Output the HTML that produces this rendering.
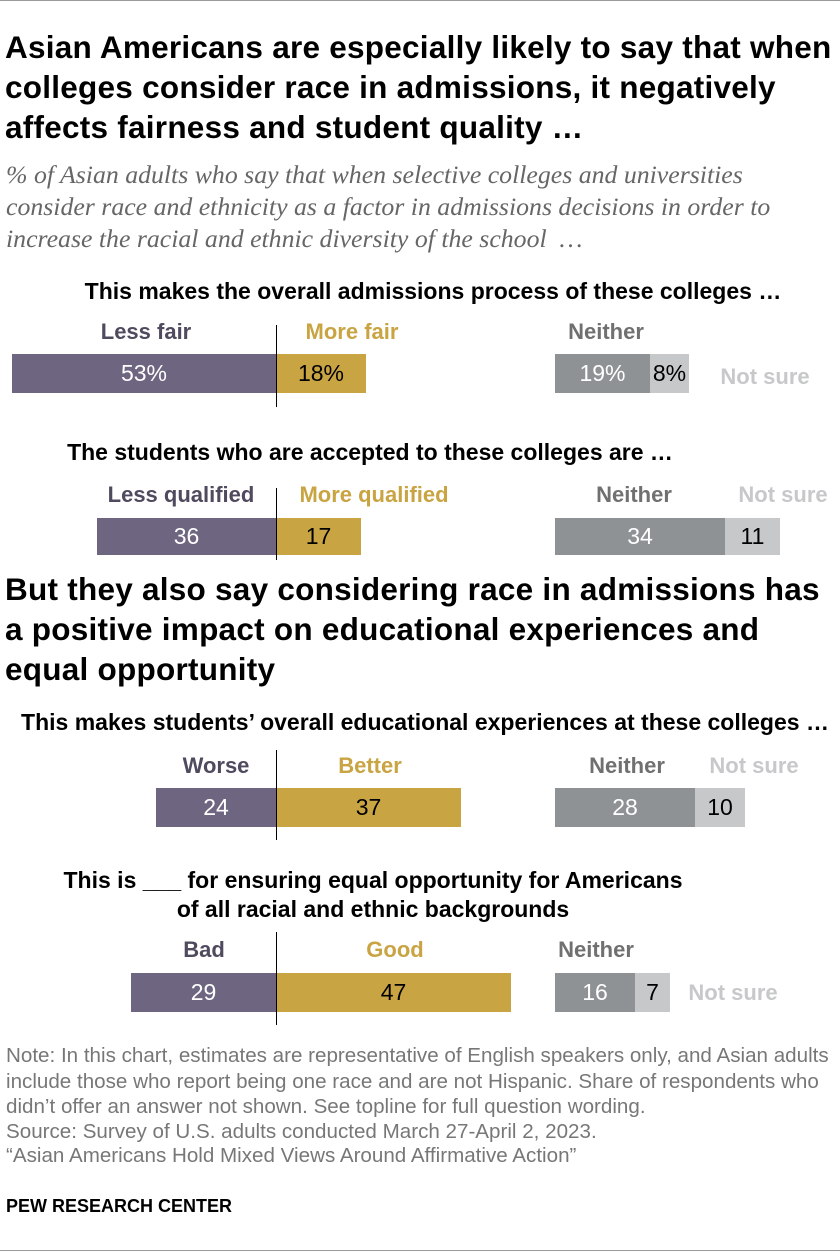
<!DOCTYPE html>
<html><head><meta charset="utf-8"><style>
body{margin:0;width:840px;height:1252px;background:#fff;position:relative;overflow:hidden;font-family:"Liberation Sans",sans-serif}
.a{position:absolute;white-space:nowrap}
.t{font-weight:bold;font-size:31.5px;line-height:40px;color:#000;left:5px;letter-spacing:0.25px}
.s{font-family:"Liberation Serif",serif;font-style:italic;font-size:25.8px;color:#666;left:6px;line-height:32px}
.h{font-family:"Liberation Sans Narrow","Liberation Sans",sans-serif;font-weight:bold;font-size:23px;color:#000;transform:translateX(-50%)}
.l{font-family:"Liberation Sans Narrow","Liberation Sans",sans-serif;font-weight:bold;font-size:22px;transform:translateX(-50%)}
.b{position:absolute;display:flex;align-items:center;justify-content:center;font-family:"Liberation Sans Narrow","Liberation Sans",sans-serif;font-size:23px}
.p{background:#6e6680;color:#fff}.g{background:#c9a443;color:#000}.n{background:#8f9294;color:#fff}.x{background:#c6c8c9;color:#000}
.v{position:absolute;width:1px;background:#000;left:276px}
.note{font-size:20.6px;color:#777;left:6px;line-height:25.5px}
</style></head><body>
<div class="a" style="left:0;top:0;width:840px;height:1px;background:#999"></div>
<div class="a t" style="top:27px">Asian Americans are especially likely to say that when<br>colleges consider race in admissions, it negatively<br>affects fairness and student quality …</div>
<div class="a s" style="top:159px">% of Asian adults who say that when selective colleges and universities<br>consider race and ethnicity as a factor in admissions decisions in order to<br>increase the racial and ethnic diversity of the school&nbsp; …</div>

<div class="a h" style="left:433px;top:278px">This makes the overall admissions process of these colleges …</div>
<div class="a l" style="left:146px;top:319px;color:#4f4a5e">Less fair</div>
<div class="a l" style="left:352px;top:319px;color:#c9a443">More fair</div>
<div class="a l" style="left:606px;top:319px;color:#707070">Neither</div>
<div class="b p" style="left:12px;top:354px;width:264px;height:39px">53%</div>
<div class="b g" style="left:276px;top:354px;width:90px;height:39px">18%</div>
<div class="b n" style="left:555px;top:354px;width:95px;height:39px">19%</div>
<div class="b x" style="left:650px;top:354px;width:39px;height:39px">8%</div>
<div class="a l" style="left:765px;top:364px;color:#c6c8c9">Not sure</div>
<div class="v" style="top:325px;height:82px"></div>

<div class="a h" style="left:370px;top:439px">The students who are accepted to these colleges are …</div>
<div class="a l" style="left:181px;top:482px;color:#4f4a5e">Less qualified</div>
<div class="a l" style="left:374px;top:482px;color:#c9a443">More qualified</div>
<div class="a l" style="left:634px;top:482px;color:#707070">Neither</div>
<div class="a l" style="left:783px;top:482px;color:#c6c8c9">Not sure</div>
<div class="b p" style="left:97px;top:518px;width:179px;height:37px">36</div>
<div class="b g" style="left:276px;top:518px;width:85px;height:37px">17</div>
<div class="b n" style="left:555px;top:518px;width:170px;height:37px">34</div>
<div class="b x" style="left:725px;top:518px;width:55px;height:37px">11</div>
<div class="v" style="top:488px;height:72px"></div>

<div class="a t" style="top:569px">But they also say considering race in admissions has<br>a positive impact on educational experiences and<br>equal opportunity</div>

<div class="a h" style="left:425px;top:709px">This makes students’ overall educational experiences at these colleges …</div>
<div class="a l" style="left:216px;top:753px;color:#4f4a5e">Worse</div>
<div class="a l" style="left:370px;top:753px;color:#c9a443">Better</div>
<div class="a l" style="left:627px;top:753px;color:#707070">Neither</div>
<div class="a l" style="left:754px;top:753px;color:#c6c8c9">Not sure</div>
<div class="b p" style="left:156px;top:788px;width:120px;height:39px">24</div>
<div class="b g" style="left:276px;top:788px;width:185px;height:39px">37</div>
<div class="b n" style="left:555px;top:788px;width:140px;height:39px">28</div>
<div class="b x" style="left:695px;top:788px;width:50px;height:39px">10</div>
<div class="v" style="top:750px;height:90px"></div>

<div class="a h" style="left:373px;top:867px">This is ___ for ensuring equal opportunity for Americans</div>
<div class="a h" style="left:373px;top:896px">of all racial and ethnic backgrounds</div>
<div class="a l" style="left:204px;top:937px;color:#4f4a5e">Bad</div>
<div class="a l" style="left:395px;top:937px;color:#c9a443">Good</div>
<div class="a l" style="left:596px;top:937px;color:#707070">Neither</div>
<div class="b p" style="left:131px;top:973px;width:145px;height:39px">29</div>
<div class="b g" style="left:276px;top:973px;width:235px;height:39px">47</div>
<div class="b n" style="left:555px;top:973px;width:80px;height:39px">16</div>
<div class="b x" style="left:635px;top:973px;width:35px;height:39px">7</div>
<div class="a l" style="left:733px;top:980px;color:#c6c8c9">Not sure</div>
<div class="v" style="top:932px;height:93px"></div>

<div class="a note" style="top:1043px">Note: In this chart, estimates are representative of English speakers only, and Asian adults<br>include those who report being one race and are not Hispanic. Share of respondents who<br>didn’t offer an answer not shown. See topline for full question wording.</div>
<div class="a note" style="top:1120px;line-height:24px">Source: Survey of U.S. adults conducted March 27-April 2, 2023.<br>“Asian Americans Hold Mixed Views Around Affirmative Action”</div>
<div class="a" style="left:6px;top:1196px;font-weight:bold;font-size:18px;color:#000">PEW RESEARCH CENTER</div>
<div class="a" style="left:0;top:1250px;width:840px;height:1px;background:#999"></div>
</body></html>
